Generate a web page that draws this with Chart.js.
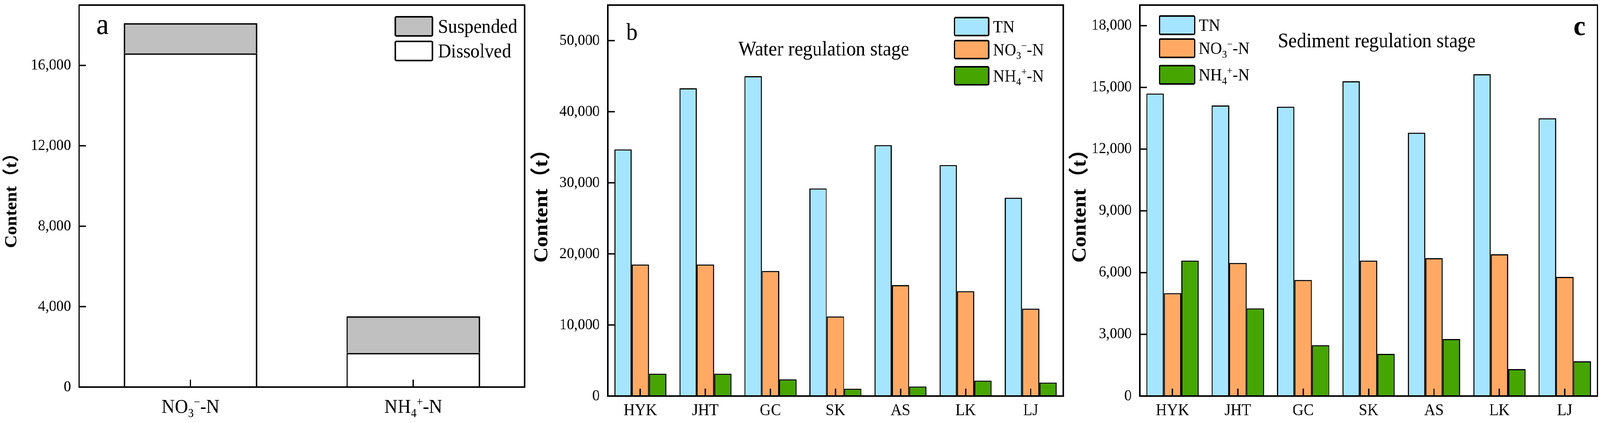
<!DOCTYPE html>
<html>
<head>
<meta charset="utf-8">
<script src="https://cdn.jsdelivr.net/npm/chart.js@4.4.1/dist/chart.umd.min.js"></script>
<style>
    body { margin: 0; background: #fff; overflow: hidden; }
    #figure { position: absolute; left: 0; top: 0; width: 4370px; height: 1083px; transform-origin: 0 0; }
    canvas { position: absolute; top: 0; }
</style>
</head>
<body>
<div id="figure">
    <canvas id="chartA" width="1440" height="1083" style="left:0"></canvas>
    <canvas id="chartB" width="1470" height="1083" style="left:1440px"></canvas>
    <canvas id="chartC" width="1460" height="1083" style="left:2910px"></canvas>
</div>
<script>
// panel a: total load by form
var formsA = ['NO3-N', 'NH4-N'];
var dissolvedA = [16600, 1700];
var suspendedA = [1500, 1820];
var yTicksA = [0, 4000, 8000, 12000, 16000];

// panels b and c: stations
var sites = ['HYK', 'JHT', 'GC', 'SK', 'AS', 'LK', 'LJ'];

var tnWater = [34700, 43300, 45000, 29200, 35300, 32500, 27900];
var no3Water = [18500, 18500, 17600, 11200, 15600, 14750, 12300];
var nh4Water = [3150, 3150, 2350, 1030, 1340, 2170, 1900];
var yTicksB = [0, 10000, 20000, 30000, 40000, 50000];

var tnSediment = [14700, 14120, 14060, 15300, 12800, 15640, 13500];
var no3Sediment = [5000, 6470, 5640, 6580, 6700, 6890, 5790];
var nh4Sediment = [6580, 4260, 2470, 2050, 2770, 1310, 1690];
var yTicksC = [0, 3000, 6000, 9000, 12000, 15000, 18000];

var SERIF = '"Liberation Serif", "Times New Roman", "Noto Sans CJK SC", serif';

// the window may be narrower than the figure, squeeze it sideways to fit
var fitScale = Math.min(1, window.innerWidth / 4370);
document.getElementById('figure').style.transform = 'scaleX(' + fitScale + ')';

// labels with sub/superscripts
var richLabels = {
    'NO3-N': [['NO'], ['3', 'sub'], ['\u2212', 'sup'], ['-N']],
    'NH4-N': [['NH'], ['4', 'sub'], ['+', 'sup'], ['-N']]
};

function richParts(label) {
    return richLabels[label] || [[label]];
}

function drawRich(ctx, parts, x, y, size, align) {
    var small = size * 0.62;
    var widths = parts.map(function (p) {
        ctx.font = (p[1] ? small : size) + 'px ' + SERIF;
        return ctx.measureText(p[0]).width;
    });
    var total = widths.reduce(function (s, w) { return s + w; }, 0);
    var cx = align === 'center' ? x - total / 2 : x;
    ctx.textAlign = 'left';
    ctx.textBaseline = 'alphabetic';
    parts.forEach(function (p, i) {
        var dy = 0;
        if (p[1] === 'sub') dy = size * 0.22;
        if (p[1] === 'sup') dy = -size * 0.36;
        ctx.font = (p[1] ? small : size) + 'px ' + SERIF;
        ctx.fillText(p[0], cx, y + dy);
        cx += widths[i];
    });
}

var framePlugin = {
    id: 'frame',
    afterDatasetsDraw: function (chart) {
        var ctx = chart.ctx, a = chart.chartArea;
        var xs = chart.scales.x, ys = chart.scales.y;
        ctx.save();
        ctx.strokeStyle = '#000';
        ctx.lineWidth = 4;
        ctx.strokeRect(a.left, a.top, a.right - a.left, a.bottom - a.top);
        ctx.lineWidth = 3.5;
        ctx.beginPath();
        xs.ticks.forEach(function (t, i) {
            var px = xs.getPixelForTick(i);
            ctx.moveTo(px, a.bottom);
            ctx.lineTo(px, a.bottom - 19);
        });
        ys.ticks.forEach(function (t, i) {
            var py = ys.getPixelForTick(i);
            ctx.moveTo(a.left, py);
            ctx.lineTo(a.left + 19, py);
        });
        ctx.stroke();
        ctx.restore();
    }
};

var legendPlugin = {
    id: 'boxLegend',
    afterDraw: function (chart, args, opts) {
        var ctx = chart.ctx;
        var sets = chart.data.datasets.slice();
        if (opts.reverse) sets.reverse();
        ctx.save();
        sets.forEach(function (ds, i) {
            var top = opts.rows[i];
            ctx.fillStyle = ds.backgroundColor;
            ctx.strokeStyle = '#000';
            ctx.lineWidth = 4;
            ctx.beginPath();
            ctx.roundRect(opts.x, top, opts.w, opts.h, 3);
            ctx.fill();
            ctx.stroke();
            ctx.fillStyle = '#000';
            drawRich(ctx, richParts(ds.label), opts.textX, top + opts.h / 2 + opts.size * 0.33, opts.size, 'left');
        });
        ctx.restore();
    }
};

var notesPlugin = {
    id: 'notes',
    afterDraw: function (chart, args, opts) {
        var ctx = chart.ctx;
        ctx.save();
        ctx.fillStyle = '#000';
        ctx.textAlign = 'center';
        ctx.textBaseline = 'alphabetic';
        (opts.items || []).forEach(function (it) {
            ctx.font = it.font;
            ctx.fillText(it.text, it.x, it.y);
        });
        ctx.restore();
    }
};

var richTicksPlugin = {
    id: 'richTicks',
    afterDraw: function (chart, args, opts) {
        if (!opts.enabled) return;
        var ctx = chart.ctx, xs = chart.scales.x;
        ctx.save();
        ctx.fillStyle = '#000';
        chart.data.labels.forEach(function (lab, i) {
            drawRich(ctx, richParts(lab), xs.getPixelForTick(i), opts.baseline, opts.size, 'center');
        });
        ctx.restore();
    }
};

function yAxis(max, tickValues, width, titleSize, titlePad) {
    return {
        min: 0,
        max: max,
        grid: { display: false, drawTicks: false },
        border: { display: false },
        afterBuildTicks: function (scale) {
            scale.ticks = tickValues.map(function (v) { return { value: v }; });
        },
        afterFit: function (scale) {
            scale.width = width;
            scale.paddingTop = 0;
            scale.paddingBottom = 0;
        },
        ticks: {
            padding: 22,
            color: '#000',
            font: { family: SERIF, size: 40 },
            callback: function (v) { return Number(v).toLocaleString('en-US'); }
        },
        title: {
            display: true,
            text: 'Content\uFF08t\uFF09',
            color: '#000',
            font: { family: SERIF, size: titleSize, weight: 'bold' },
            padding: { top: titlePad, bottom: 0 }
        }
    };
}

function xAxis(height, showTicks) {
    return {
        grid: { display: false, drawTicks: false },
        border: { display: false },
        afterFit: function (scale) {
            scale.height = height;
            scale.paddingLeft = 0;
            scale.paddingRight = 0;
        },
        ticks: {
            display: showTicks,
            padding: 13,
            color: '#000',
            maxRotation: 0,
            autoSkip: false,
            font: { family: SERIF, size: 42 }
        }
    };
}

// panel a: stacked dissolved / suspended
new Chart(document.getElementById('chartA'), {
    type: 'bar',
    data: {
        labels: formsA,
        datasets: [
            { label: 'Dissolved', data: dissolvedA, backgroundColor: '#FFFFFF' },
            { label: 'Suspended', data: suspendedA, backgroundColor: '#C0C0C0' }
        ]
    },
    plugins: [framePlugin, legendPlugin, notesPlugin, richTicksPlugin],
    options: {
        responsive: false,
        animation: false,
        devicePixelRatio: 1,
        layout: { padding: { top: 13, right: 7, left: 0, bottom: 0 } },
        datasets: {
            bar: { borderColor: '#000', borderWidth: 4, barPercentage: 0.6, categoryPercentage: 1.0 }
        },
        scales: {
            x: Object.assign(xAxis(92, false), { stacked: true }),
            y: Object.assign(yAxis(19000, yTicksA, 216, 46, 6), { stacked: true })
        },
        plugins: {
            legend: { display: false },
            tooltip: { enabled: false },
            boxLegend: { x: 1080, rows: [43, 106], w: 101, h: 49, textX: 1196, size: 50, reverse: true },
            notes: { items: [{ text: 'a', x: 280, y: 87, font: '76px ' + SERIF }] },
            richTicks: { enabled: true, baseline: 1057, size: 50 }
        }
    }
});

function groupedChart(id, tn, no3, nh4, yMax, yTicks, yWidth, rightPad, legendOpts, noteItems) {
    return new Chart(document.getElementById(id), {
        type: 'bar',
        data: {
            labels: sites,
            datasets: [
                { label: 'TN', data: tn, backgroundColor: '#A6E5FF' },
                { label: 'NO3-N', data: no3, backgroundColor: '#FFA964' },
                { label: 'NH4-N', data: nh4, backgroundColor: '#47A500' }
            ]
        },
        plugins: [framePlugin, legendPlugin, notesPlugin],
        options: {
            responsive: false,
            animation: false,
            devicePixelRatio: 1,
            layout: { padding: { top: 13, right: rightPad, left: 0, bottom: 0 } },
            datasets: {
                bar: { borderColor: '#000', borderWidth: 3, barPercentage: 1.0, categoryPercentage: 0.8 }
            },
            scales: {
                x: xAxis(69, true),
                y: yAxis(yMax, yTicks, yWidth, 55, 8)
            },
            plugins: {
                legend: { display: false },
                tooltip: { enabled: false },
                boxLegend: legendOpts,
                notes: { items: noteItems }
            }
        }
    });
}

groupedChart('chartB', tnWater, no3Water, nh4Water, 55000, yTicksB, 220, 6,
    { x: 1167, rows: [45, 104, 171], w: 93, h: 46, textX: 1272, size: 44 },
    [
        { text: 'b', x: 286, y: 102, font: '62px ' + SERIF },
        { text: 'Water regulation stage', x: 810, y: 142, font: '52px ' + SERIF }
    ]);

groupedChart('chartC', tnSediment, no3Sediment, nh4Sediment, 19000, yTicksC, 203, 7,
    { x: 257, rows: [41, 100, 168], w: 96, h: 47, textX: 364, size: 44 },
    [
        { text: 'c', x: 1404, y: 90, font: 'bold 72px ' + SERIF },
        { text: 'Sediment regulation stage', x: 850, y: 121, font: '52px ' + SERIF }
    ]);
</script>
</body>
</html>
